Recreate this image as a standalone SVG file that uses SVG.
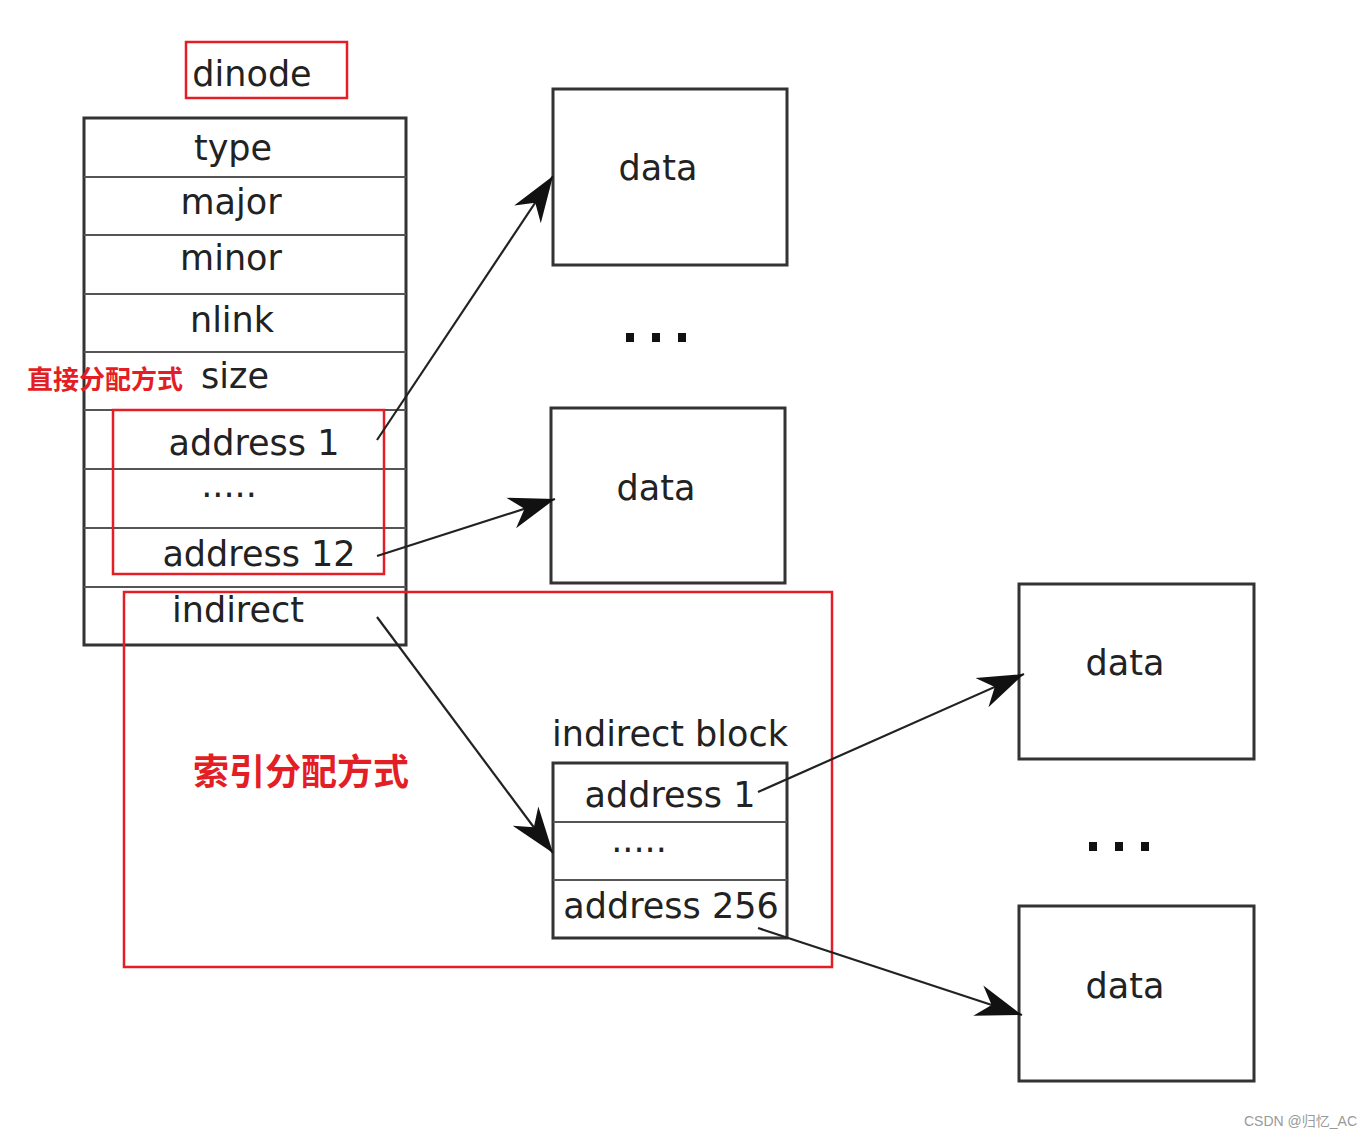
<svg xmlns="http://www.w3.org/2000/svg" width="1372" height="1137" viewBox="0 0 1372 1137">
<defs>
<style>
.box{fill:#fff;stroke:#333;stroke-width:3}
.row{stroke:#555;stroke-width:2}
.t{font-family:"DejaVu Sans",sans-serif;font-size:35px;fill:#222;text-anchor:middle}
.red{fill:none;stroke:#e31e24;stroke-width:2.5}
.rt{font-family:"Noto Sans CJK SC",sans-serif;font-weight:bold;fill:#e31e24}
.dot{fill:#111}
.conn{stroke:#222;stroke-width:2.2;fill:none;marker-end:url(#ah)}
</style>
<marker id="ah" markerUnits="userSpaceOnUse" markerWidth="50" markerHeight="40" viewBox="-46 -20 50 40" refX="0" refY="0" orient="auto">
<path d="M0,0 L-46,-16 L-32,0 L-46,16 Z" fill="#111"/>
</marker>
</defs>
<rect width="1372" height="1137" fill="#fff"/>

<g id="dinode-label">
<rect class="red" x="186" y="42" width="161" height="56"/>
<text class="t" x="252" y="86">dinode</text>
</g>

<g id="dinode">
<rect class="box" x="84" y="118" width="322" height="527"/>
<line class="row" x1="84" y1="177" x2="406" y2="177"/>
<line class="row" x1="84" y1="235" x2="406" y2="235"/>
<line class="row" x1="84" y1="294" x2="406" y2="294"/>
<line class="row" x1="84" y1="352" x2="406" y2="352"/>
<line class="row" x1="84" y1="410" x2="406" y2="410"/>
<line class="row" x1="84" y1="469" x2="406" y2="469"/>
<line class="row" x1="84" y1="528" x2="406" y2="528"/>
<line class="row" x1="84" y1="587" x2="406" y2="587"/>
<text class="t" x="233" y="160">type</text>
<text class="t" x="231" y="214">major</text>
<text class="t" x="231" y="270">minor</text>
<text class="t" x="232" y="332">nlink</text>
<text class="t" x="235" y="388">size</text>
<text class="t" x="254" y="455">address 1</text>
<text class="t" x="229" y="497">.....</text>
<text class="t" x="259" y="566">address 12</text>
<text class="t" x="238" y="622">indirect</text>
</g>

<g id="direct-label">
<rect class="red" x="113" y="410" width="271" height="164"/>
<text class="rt" x="27" y="389" style="font-size:26px">直接分配方式</text>
</g>

<g id="index-label">
<rect class="red" x="124" y="592" width="708" height="375"/>
<text class="rt" x="193" y="785" style="font-size:36px">索引分配方式</text>
</g>

<g id="data1">
<rect class="box" x="553" y="89" width="234" height="176"/>
<text class="t" x="658" y="180">data</text>
</g>
<g id="dots1">
<rect class="dot" x="626" y="333" width="8" height="9"/>
<rect class="dot" x="652" y="333" width="8" height="9"/>
<rect class="dot" x="678" y="333" width="8" height="9"/>
</g>
<g id="data2">
<rect class="box" x="551" y="408" width="234" height="175"/>
<text class="t" x="656" y="500">data</text>
</g>

<g id="indirect-block">
<text class="t" x="670" y="746">indirect block</text>
<rect class="box" x="553" y="763" width="234" height="175"/>
<line class="row" x1="553" y1="822" x2="787" y2="822"/>
<line class="row" x1="553" y1="880" x2="787" y2="880"/>
<text class="t" x="670" y="807">address 1</text>
<text class="t" x="639" y="852">.....</text>
<text class="t" x="671" y="918">address 256</text>
</g>

<g id="data3">
<rect class="box" x="1019" y="584" width="235" height="175"/>
<text class="t" x="1125" y="675">data</text>
</g>
<g id="dots2">
<rect class="dot" x="1089" y="842" width="8" height="9"/>
<rect class="dot" x="1115" y="842" width="8" height="9"/>
<rect class="dot" x="1141" y="842" width="8" height="9"/>
</g>
<g id="data4">
<rect class="box" x="1019" y="906" width="235" height="175"/>
<text class="t" x="1125" y="998">data</text>
</g>

<g id="connectors">
<line class="conn" x1="377" y1="440" x2="553" y2="176"/>
<line class="conn" x1="377" y1="556" x2="555" y2="499"/>
<line class="conn" x1="377" y1="617" x2="553" y2="853"/>
<line class="conn" x1="758" y1="792" x2="1024" y2="674"/>
<line class="conn" x1="758" y1="928" x2="1022" y2="1015"/>
</g>

<text x="1357" y="1126" style="font-family:'Liberation Sans','Noto Sans CJK SC',sans-serif;font-size:14px;fill:#999;text-anchor:end">CSDN @归忆_AC</text>
</svg>
